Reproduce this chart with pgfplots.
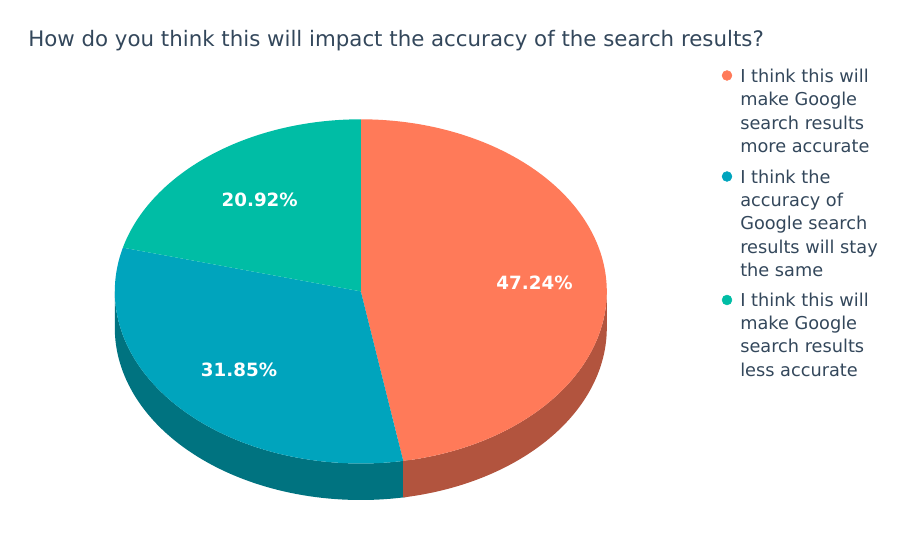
\documentclass[border=0pt]{standalone}
\usepackage{pgfplots}
\pgfplotsset{compat=1.18}
\usepackage{fontspec}
\setmainfont{DejaVu Sans}
\definecolor{corange}{HTML}{FF7A59}
\definecolor{corangeside}{HTML}{B2543E}
\definecolor{cblue}{HTML}{00A4BD}
\definecolor{cblueside}{HTML}{007380}
\definecolor{cgreen}{HTML}{00BDA5}
\definecolor{ctext}{HTML}{33475B}
% data (percent)
\def\pA{47.24}
\def\pB{31.85}
\def\pC{20.92}
% geometry (pixels)
\def\cx{360.8}
\def\cy{291.4}
\def\rx{246}
\def\ry{172.1}
\def\dep{36.5}
\pgfmathsetmacro{\aZero}{90}
\pgfmathsetmacro{\aOne}{90-3.6*\pA}
\pgfmathsetmacro{\aTwo}{\aOne-3.6*\pB}
\pgfmathsetmacro{\aThree}{\aTwo-3.6*\pC}
\pgfmathsetmacro{\aOneOver}{\aOne+1.5}
\newcommand{\sideplot}[3]{%
  \addplot[draw=none,fill=#3,domain=0:2,samples=401,variable=\t,forget plot]
   ({\cx+\rx*cos((#1)+((#2)-(#1))*(1-abs(1-\t)))},
    {\cy-\ry*sin((#1)+((#2)-(#1))*(1-abs(1-\t)))+\dep*(\t>1)}) -- cycle;}
\newcommand{\topplot}[3]{%
  \addplot[draw=none,fill=#3,domain=#1:#2,samples=160,variable=\t,forget plot]
   ({\cx+\rx*cos(\t)},{\cy-\ry*sin(\t)}) -- (axis cs:\cx,\cy) -- cycle;}
\begin{document}
\begin{tikzpicture}
\begin{axis}[
  at={(0,0)}, anchor=south west, scale only axis,
  width=675pt, height=417pt,
  xmin=0, xmax=900, ymin=0, ymax=556, y dir=reverse,
  axis lines=none, clip=false,
]
% side walls
\sideplot{-180}{\aOneOver}{cblueside}
\sideplot{\aOne}{0}{corangeside}
% top faces
\topplot{\aOne}{\aZero}{corange}
\topplot{\aTwo}{\aOne}{cblue}
\topplot{\aThree}{\aTwo}{cgreen}
% slice labels
\node[font=\bfseries\fontsize{13.7}{16}\selectfont, text=white] at (axis cs:534.5,282.5) {47.24\%};
\node[font=\bfseries\fontsize{13.7}{16}\selectfont, text=white] at (axis cs:259.7,200) {20.92\%};
\node[font=\bfseries\fontsize{13.7}{16}\selectfont, text=white] at (axis cs:239,370) {31.85\%};
% title
\node[anchor=base west, font=\fontsize{16}{19}\selectfont, text=ctext, inner sep=0pt] at (axis cs:28,46.5) {How do you think this will impact the accuracy of the search results?};
% legend markers
\addplot[only marks, mark=*, mark size=3.7pt, color=corange, forget plot] coordinates {(727,75.5)};
\addplot[only marks, mark=*, mark size=3.7pt, color=cblue, forget plot] coordinates {(727,176.5)};
\addplot[only marks, mark=*, mark size=3.7pt, color=cgreen, forget plot] coordinates {(727,300)};
% legend text
\begin{scope}[every node/.style={anchor=base west, inner sep=0pt, text=ctext, font=\fontsize{13.3}{16}\selectfont}]
\node at (axis cs:740,82.5) {I think this will};
\node at (axis cs:740,105.8) {make Google};
\node at (axis cs:740,129.1) {search results};
\node at (axis cs:740,152.4) {more accurate};
\node at (axis cs:740,183.2) {I think the};
\node at (axis cs:740,206.5) {accuracy of};
\node at (axis cs:740,229.8) {Google search};
\node at (axis cs:740,253.1) {results will stay};
\node at (axis cs:740,276.4) {the same};
\node at (axis cs:740,306.4) {I think this will};
\node at (axis cs:740,329.7) {make Google};
\node at (axis cs:740,353) {search results};
\node at (axis cs:740,376.3) {less accurate};
\end{scope}
\end{axis}
\pgfresetboundingbox
\useasboundingbox (0,0) rectangle (675pt,417pt);
\end{tikzpicture}
\end{document}
